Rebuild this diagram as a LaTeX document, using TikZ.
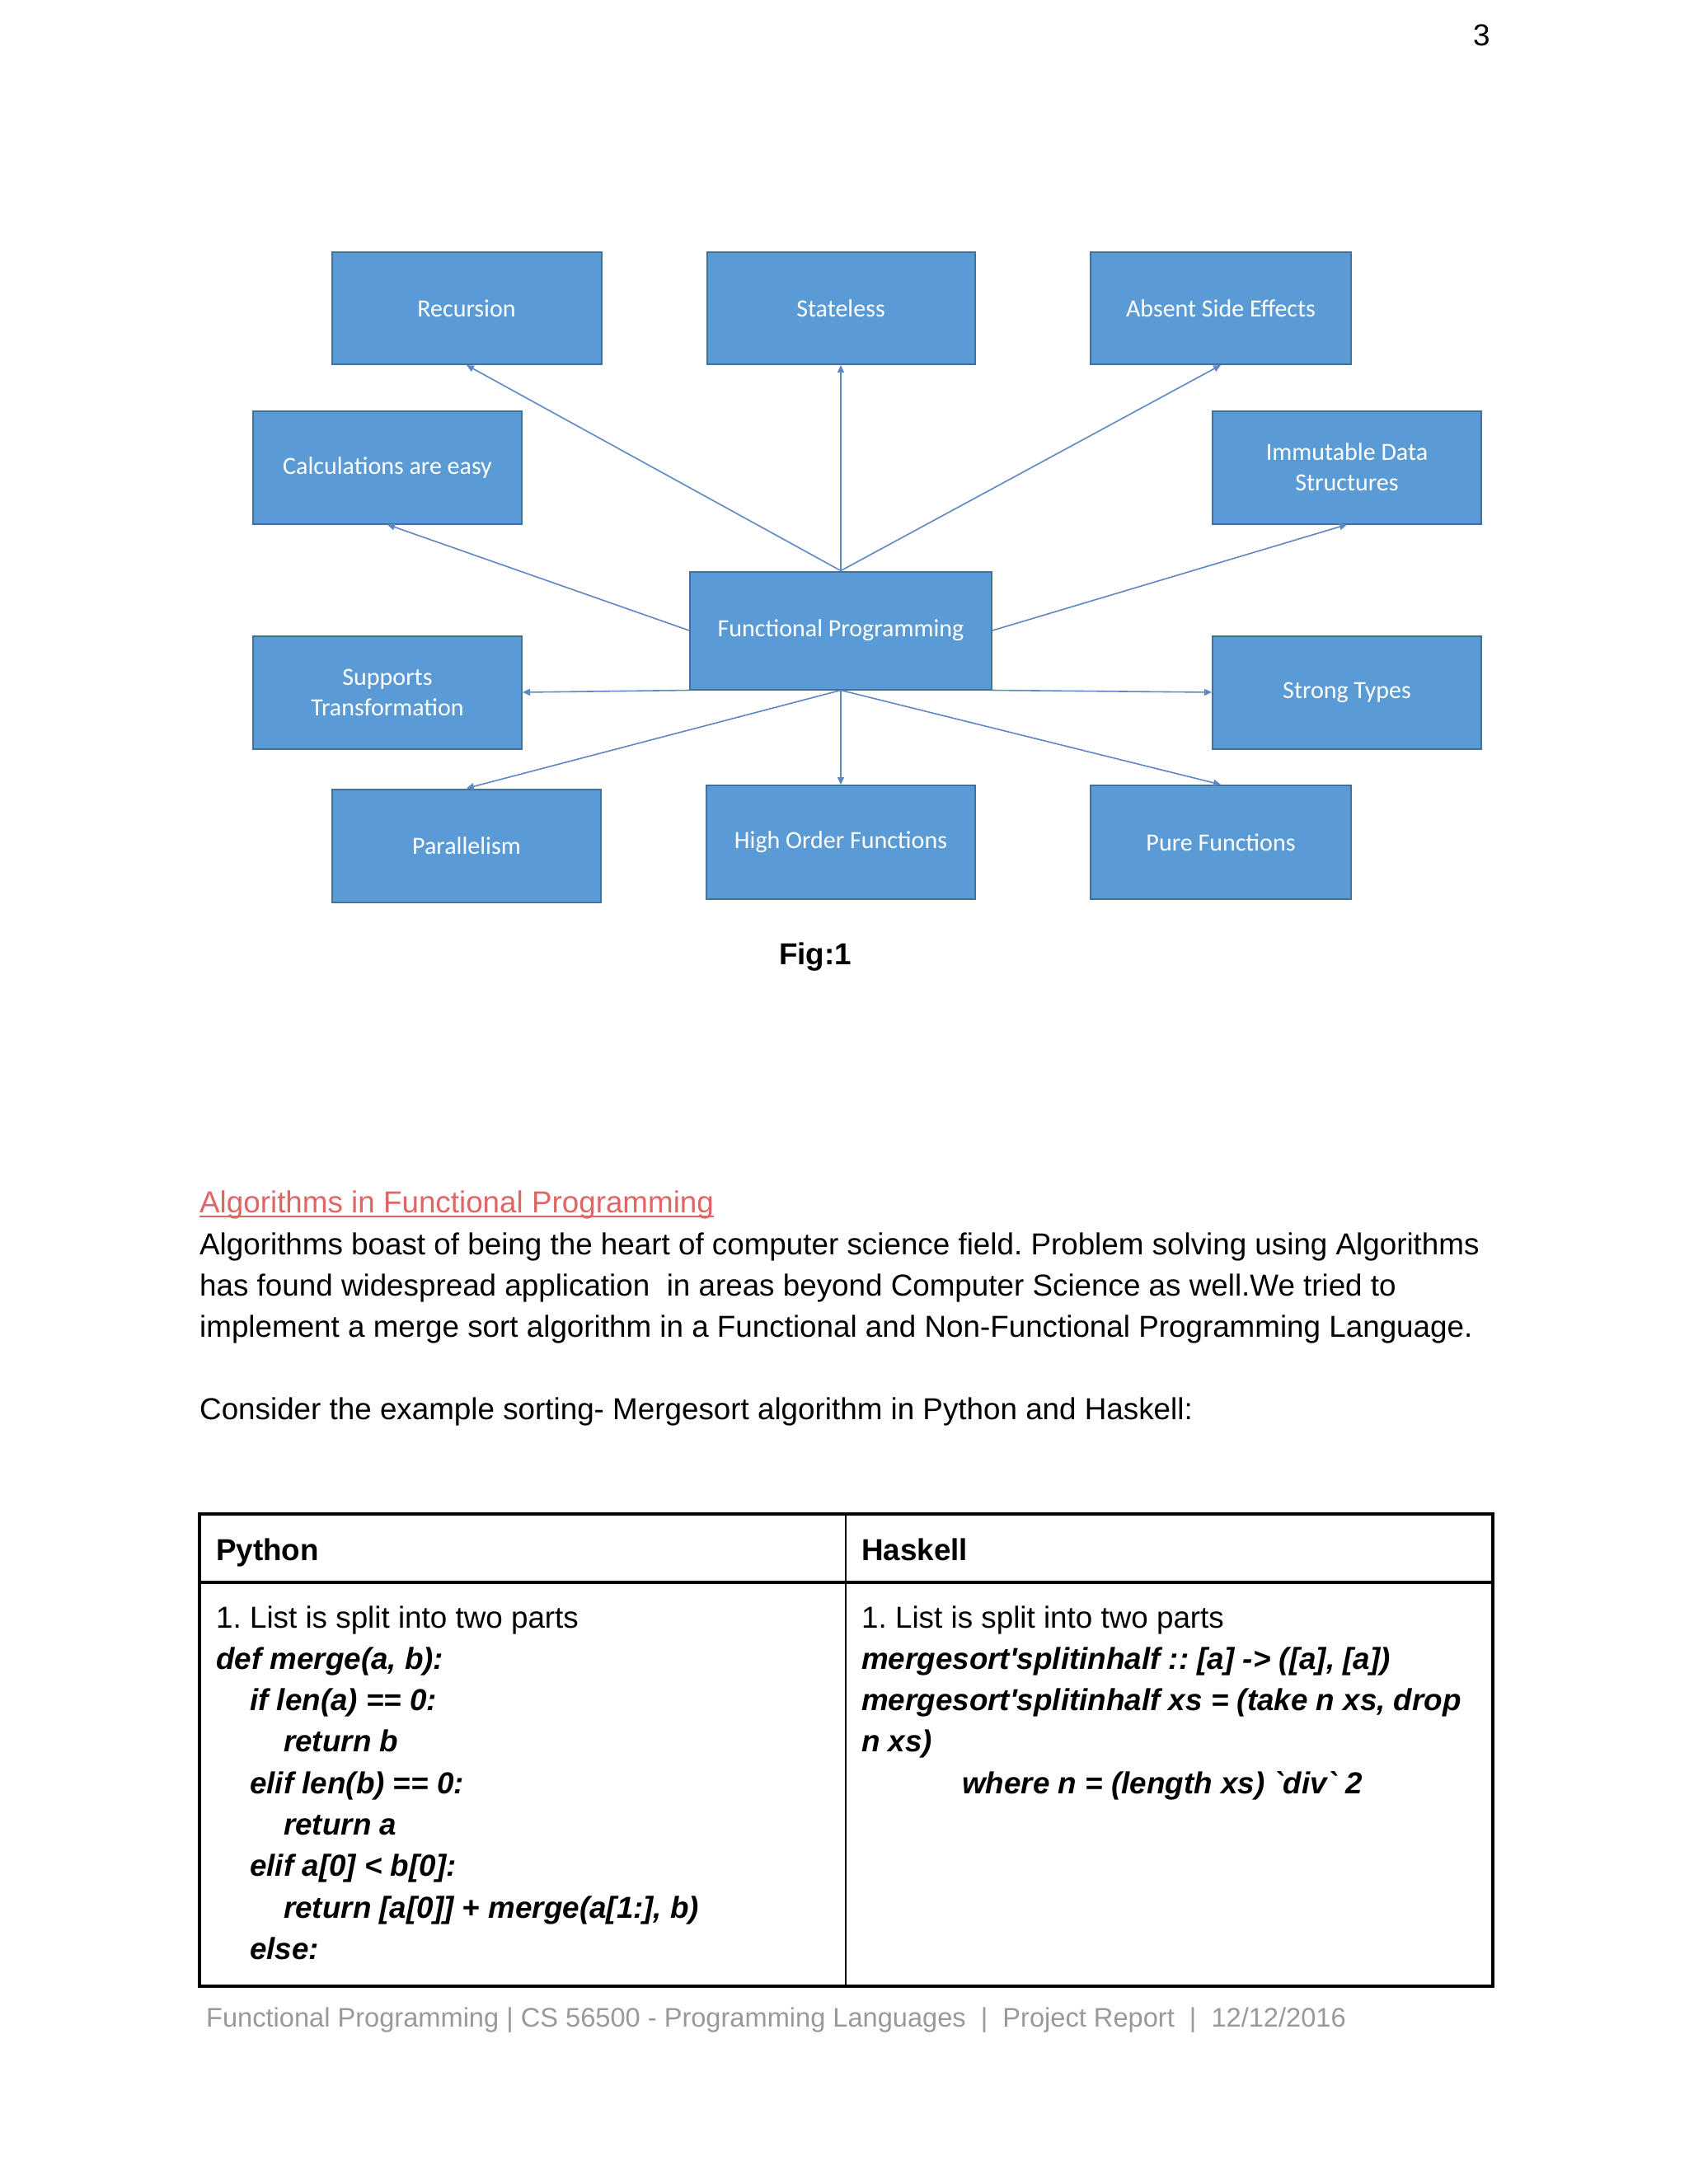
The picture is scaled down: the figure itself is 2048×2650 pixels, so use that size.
\documentclass[tikz,border=0pt]{standalone}
\usepackage{fontspec}
\setmainfont{Liberation Sans}[Ligatures=TeXOff]
\newfontfamily\carlitofont{Carlito}
\usetikzlibrary{arrows.meta}
\definecolor{boxfill}{HTML}{5B9BD5}
\definecolor{boxline}{HTML}{41719C}
\definecolor{arrowc}{HTML}{5F88C2}
\definecolor{headred}{HTML}{E06666}
\definecolor{footgray}{HTML}{999999}
\tikzset{
  fpbox/.style={rectangle, fill=boxfill, draw=boxline, line width=2pt, text=white,
    font=\carlitofont\fontsize{30}{37}\selectfont, align=center, inner sep=0pt},
  conn/.style={draw=arrowc, line width=1.6pt, -{Triangle[length=9pt,width=8pt]}},
  bodytxt/.style={anchor=base west, inner sep=0pt, font=\fontsize{36.8}{50}\selectfont},
  codetxt/.style={bodytxt, font=\fontsize{36.8}{50}\selectfont\bfseries\itshape},
}
\frenchspacing
\begin{document}
\frenchspacing
\begin{tikzpicture}[x=1pt,y=-1pt]
\useasboundingbox[fill=white] (0,0) rectangle (2048,2650);

\node[bodytxt] (pg) at (1787,55) {3};

% boxes
\node[fpbox, minimum width=327pt, minimum height=136pt] (rec) at (566,374) {Recursion};
\node[fpbox, minimum width=325pt, minimum height=136pt] (sta) at (1020,374) {Stateless};
\node[fpbox, minimum width=316pt, minimum height=136pt] (abs) at (1481,374) {Absent Side Effects};
\node[fpbox, minimum width=326pt, minimum height=137pt] (cal) at (470,567) {Calculations are easy};
\node[fpbox, minimum width=326pt, minimum height=137pt] (imm) at (1634,567) {Immutable Data\\Structures};
\node[fpbox, minimum width=366pt, minimum height=143pt] (fp) at (1020,765) {Functional Programming};
\node[fpbox, minimum width=326pt, minimum height=137pt] (sup) at (470,840) {Supports\\Transformation};
\node[fpbox, minimum width=326pt, minimum height=137pt] (str) at (1634,840) {Strong Types};
\node[fpbox, minimum width=326pt, minimum height=137pt] (par) at (566,1026) {Parallelism};
\node[fpbox, minimum width=326pt, minimum height=138pt] (hof) at (1020,1022) {High Order Functions};
\node[fpbox, minimum width=316pt, minimum height=138pt] (pur) at (1481,1022) {Pure Functions};

% connectors
\draw[conn] (fp.north) -- (rec.south);
\draw[conn] (fp.north) -- (sta.south);
\draw[conn] (fp.north) -- (abs.south);
\draw[conn] (fp.west) -- (cal.south);
\draw[conn] (fp.east) -- (imm.south);
\draw[conn] (fp.south west) -- (sup.east);
\draw[conn] (fp.south east) -- (str.west);
\draw[conn] (fp.south) -- (par.north);
\draw[conn] (fp.south) -- (hof.north);
\draw[conn] (fp.south) -- (pur.north);

\node[bodytxt, anchor=base, font=\fontsize{36.8}{50}\selectfont\bfseries] (fig) at (989,1170) {Fig:1};

% heading and paragraph
\node[bodytxt, text=headred] (head) at (242,1471) {Algorithms in Functional Programming};
\draw[headred, line width=2.7pt] ([yshift=-5pt]head.base west) -- ([yshift=-5pt]head.base east);
\node[bodytxt] (p1) at (242,1522) {Algorithms boast of being the heart of computer science field. Problem solving using Algorithms};
\node[bodytxt] (p2) at (242,1572) {has found widespread application \ in areas beyond Computer Science as well.We tried to};
\node[bodytxt] (p3) at (242,1622) {implement a merge sort algorithm in a Functional and Non-Functional Programming Language.};
\node[bodytxt] (p4) at (242,1722) {Consider the example sorting- Mergesort algorithm in Python and Haskell:};

% table
\coordinate (tl) at (242,1837);
\coordinate (br) at (1811,2410);
\draw[line width=3.5pt] (tl) rectangle (br);
\coordinate (hl) at (242,1920);
\coordinate (hr) at (1811,1920);
\draw[line width=3.5pt] (hl) -- (hr);
\coordinate (vt) at (1026,1837);
\coordinate (vb) at (1026,2410);
\draw[line width=2.5pt] (vt) -- (vb);

\node[bodytxt, font=\fontsize{36.8}{50}\selectfont\bfseries] (py) at (262,1893) {Python};
\node[bodytxt, font=\fontsize{36.8}{50}\selectfont\bfseries] (hs) at (1045,1893) {Haskell};

\node[bodytxt] (a1) at (262,1975) {1. List is split into two parts};
\node[codetxt] (a2) at (262,2025.3) {def merge(a, b):};
\node[codetxt] (a3) at (303,2075.6) {if len(a) == 0:};
\node[codetxt] (a4) at (344,2125.9) {return b};
\node[codetxt] (a5) at (303,2176.2) {elif len(b) == 0:};
\node[codetxt] (a6) at (344,2226.5) {return a};
\node[codetxt] (a7) at (303,2276.8) {elif a[0] < b[0]:};
\node[codetxt] (a8) at (344,2327.1) {return [a[0]] + merge(a[1:], b)};
\node[codetxt] (a9) at (303,2377.4) {else:};

\node[bodytxt] (b1) at (1045,1975) {1. List is split into two parts};
\node[codetxt] (b2) at (1045,2025.3) {mergesort'splitinhalf :: [a] -> ([a], [a])};
\node[codetxt] (b3) at (1045,2075.6) {mergesort'splitinhalf xs = (take n xs, drop};
\node[codetxt] (b4) at (1045,2125.9) {n xs)};
\node[codetxt] (b5) at (1167,2176.2) {where n = (length xs) `div` 2};

% footer
\node[bodytxt, text=footgray, font=\fontsize{32.6}{40}\selectfont] (foot) at (250,2459) {Functional Programming | CS 56500 - Programming Languages \ | \ Project Report \ | \ 12/12/2016};
\end{tikzpicture}
\end{document}
